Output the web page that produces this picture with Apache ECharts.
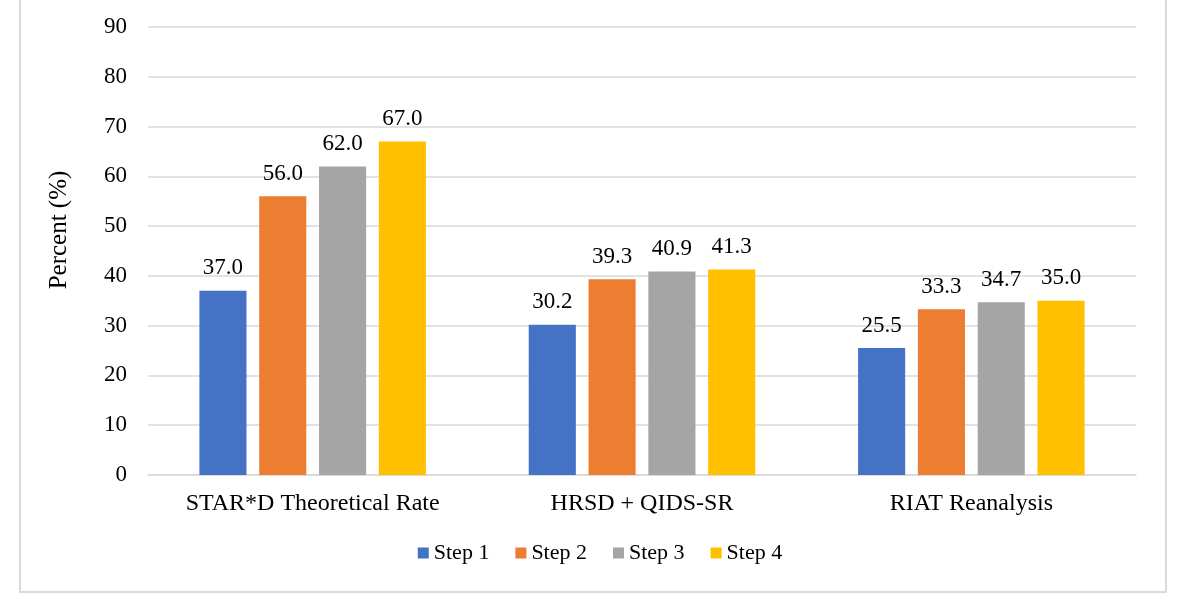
<!DOCTYPE html>
<html lang="en">
<head>
    <meta charset="UTF-8">
    <title>STAR*D remission rates</title>
    <script src="https://cdn.jsdelivr.net/npm/echarts@6/dist/echarts.min.js"></script>
    <style>
        html, body { margin: 0; padding: 0; background: #fff; }
    </style>
</head>
<body>
    <div id="main" style="width: 1200px;height:600px;"></div>
    <script>
        // data
        var categories = ["STAR*D Theoretical Rate", "HRSD + QIDS-SR", "RIAT Reanalysis"];
        var step1 = [37.0, 30.2, 25.5];
        var step2 = [56.0, 39.3, 33.3];
        var step3 = [62.0, 40.9, 34.7];
        var step4 = [67.0, 41.3, 35.0];
        var stepNames = ["Step 1", "Step 2", "Step 3", "Step 4"];
        var stepColors = ["#4472c4", "#ed7d31", "#a5a5a5", "#ffc000"];

        var font = "'Liberation Serif', 'Times New Roman', serif";

        var myChart = echarts.init(document.getElementById('main'));

        var allSteps = [step1, step2, step3, step4];
        var series = allSteps.map(function (vals, i) {
            return {
                name: stepNames[i],
                type: 'bar',
                data: vals,
                barWidth: '14.3%',
                barGap: '27%',
                itemStyle: { color: stepColors[i] },
                label: {
                    show: true,
                    position: 'top',
                    distance: 11,
                    color: '#000',
                    fontFamily: font,
                    fontSize: 23,
                    formatter: function (p) { return p.value.toFixed(1); }
                }
            };
        });

        var option = {
            animation: false,
            textStyle: { fontFamily: font },
            graphic: [{
                type: 'rect',
                shape: { x: 20, y: -5, width: 1146, height: 597 },
                style: { fill: null, stroke: '#d9d9d9', lineWidth: 2 },
                silent: true
            }],
            grid: { left: 148, right: 64, top: 27, bottom: 125 },
            legend: {
                data: stepNames,
                bottom: 31,
                left: 'center',
                itemWidth: 11,
                itemHeight: 11,
                itemGap: 26,
                icon: 'rect',
                textStyle: { fontFamily: font, fontSize: 22, color: '#000' }
            },
            xAxis: {
                type: 'category',
                data: categories,
                axisTick: { show: false },
                axisLine: { lineStyle: { color: '#d9d9d9', width: 1.5 } },
                axisLabel: { color: '#000', fontFamily: font, fontSize: 24, margin: 17, interval: 0, hideOverlap: false }
            },
            yAxis: {
                type: 'value',
                min: 0,
                max: 90,
                interval: 10,
                name: 'Percent (%)',
                nameLocation: 'middle',
                nameGap: 76,
                nameTextStyle: { color: '#000', fontFamily: font, fontSize: 25, padding: [0, 0, 0, 42] },
                axisLine: { show: false },
                axisTick: { show: false },
                splitLine: { lineStyle: { color: '#d9d9d9', width: 1.5 } },
                axisLabel: { color: '#000', fontFamily: font, fontSize: 23, margin: 21 }
            },
            series: series
        };
        myChart.setOption(option);
    </script>
</body>
</html>
